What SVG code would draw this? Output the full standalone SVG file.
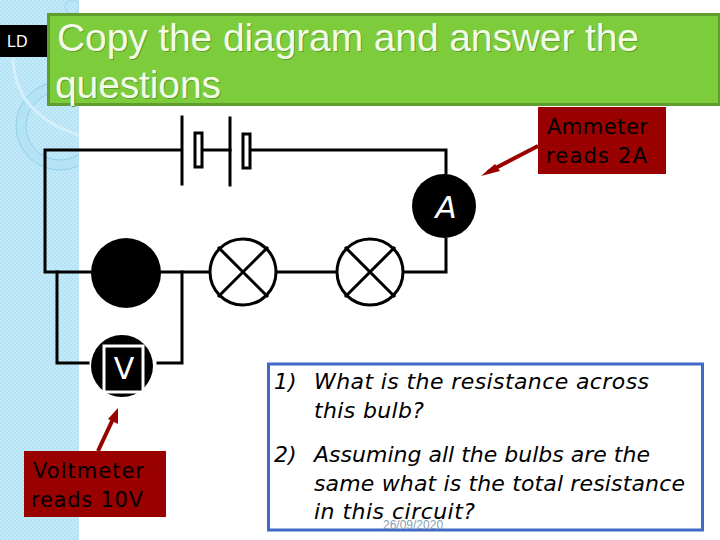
<svg xmlns="http://www.w3.org/2000/svg" width="720" height="540" viewBox="0 0 720 540">
<style>
.w{fill:none;stroke:#000;stroke-width:3;stroke-linecap:square}
.c{font-family:"DejaVu Sans",sans-serif;font-size:21px;fill:#000}
.i{font-family:"DejaVu Sans",sans-serif;font-style:italic;font-size:22px;fill:#000}
.t{font-family:"Liberation Sans",sans-serif;font-size:39px}
.tf{fill:#f2fbe6}
.ts{fill:#5f9e2e}
.b{fill:#fff;stroke:#000;stroke-width:3}
.r{fill:#990000}
.a{stroke:#990000;stroke-width:4;fill:none}
</style>
<defs>
<pattern id="dots" width="4" height="4" patternUnits="userSpaceOnUse"><rect width="4" height="4" fill="#b5e3f6"/><rect width="2" height="2" fill="#c4e9f8"/><rect x="2" y="2" width="2" height="2" fill="#c4e9f8"/></pattern>
<clipPath id="strip"><rect width="79" height="540"/></clipPath>
</defs>
<rect width="720" height="540" fill="#fff"/>
<g id="background">
<rect width="79" height="540" fill="url(#dots)"/>
<g clip-path="url(#strip)" fill="none">
<circle cx="60" cy="126" r="39" stroke="#b5e3f6" stroke-width="10"/>
<circle cx="60" cy="126" r="44" stroke="#93cfe8" stroke-width="1"/>
<circle cx="60" cy="126" r="34" stroke="#93cfe8" stroke-width="1"/>
<path d="M13 58Q15 115 79 135" stroke="#d5f0fb" stroke-width="3"/>
<circle cx="72" cy="7" r="7" stroke="#a9daf2" stroke-width="1.500"/>
</g>
</g>
<g id="ld"><rect y="25" width="50" height="32" fill="#000"/><text x="7" y="47" font-family="Liberation Sans,sans-serif" font-size="16" fill="#fff">LD</text></g>
<g id="title">
<rect x="48.500" y="14.500" width="671" height="90" fill="#7dcc3c" stroke="#5f9e2e" stroke-width="3"/>
<text class="t ts" x="58" y="52" textLength="582">Copy the diagram and answer the</text>
<text class="t ts" x="56" y="99" textLength="166">questions</text>
<text class="t tf" x="57" y="51" textLength="582">Copy the diagram and answer the</text>
<text class="t tf" x="55" y="98" textLength="166">questions</text>
</g>
<g id="connectors">
<path class="w" d="M181 150H45V272H91M160 272H209M277 272H336M404 272H446V239M446 173V150H248M198 150H230"/>
<path class="w" d="M57 272V363H88M158 363H182V272"/>
<path class="w" d="M182 117V184M230 118V185"/>
<path class="a" d="M538 146L488 172"/>
<path class="r" d="M481 176L495 164L500 171Z"/>
<path class="a" d="M98 451L113 419"/>
<path class="r" d="M118 408L118 424L108 419Z"/>
</g>
<g id="cell-1"><rect class="b" x="195" y="133" width="7" height="34"/></g>
<g id="cell-2"><rect class="b" x="243" y="134" width="7" height="34"/></g>
<g id="ammeter"><circle cx="444" cy="206" r="32" fill="#000"/><text x="446" y="218" text-anchor="middle" font-family="DejaVu Sans,sans-serif" font-style="italic" font-size="31" fill="#fff">A</text></g>
<g id="bulb-1"><circle cx="126" cy="273" r="35" fill="#000"/></g>
<g id="bulb-2"><circle cx="243" cy="272" r="33" class="b"/><path class="w" d="M219 248L267 296M267 248L219 296"/></g>
<g id="bulb-3"><circle cx="370" cy="272" r="33" class="b"/><path class="w" d="M346 248L394 296M394 248L346 296"/></g>
<g id="voltmeter"><circle cx="122" cy="366" r="31" fill="#000"/><rect x="104" y="346" width="39" height="46" fill="#000" stroke="#fff" stroke-width="3"/><text x="124" y="379" text-anchor="middle" font-family="DejaVu Sans,sans-serif" font-size="30" fill="#fff">V</text></g>
<g id="ammeter-note"><rect class="r" x="538" y="107" width="128" height="67"/><text class="c" x="547" y="134" textLength="101">Ammeter</text><text class="c" x="546" y="163" textLength="101">reads 2A</text></g>
<g id="voltmeter-note"><rect class="r" x="24" y="451" width="142" height="66"/><text class="c" x="33" y="478" textLength="111">Voltmeter</text><text class="c" x="31" y="507" textLength="112">reads 10V</text></g>
<g id="questions">
<rect x="268.500" y="364" width="434" height="166" fill="#fff" stroke="#4169c8" stroke-width="3"/>
<text class="i" x="274" y="389">1)</text>
<text class="i" x="314" y="389" textLength="335">What is the resistance across</text>
<text class="i" x="314" y="418" textLength="110">this bulb?</text>
<text class="i" x="274" y="462">2)</text>
<text class="i" x="314" y="462" textLength="336">Assuming all the bulbs are the</text>
<text class="i" x="314" y="491" textLength="371">same what is the total resistance</text>
<text class="i" x="314" y="519" textLength="161">in this circuit?</text>
<text x="383" y="529" font-family="Liberation Sans,sans-serif" font-size="12" fill="#8a9fb5">26/09/2020</text>
</g>
</svg>
